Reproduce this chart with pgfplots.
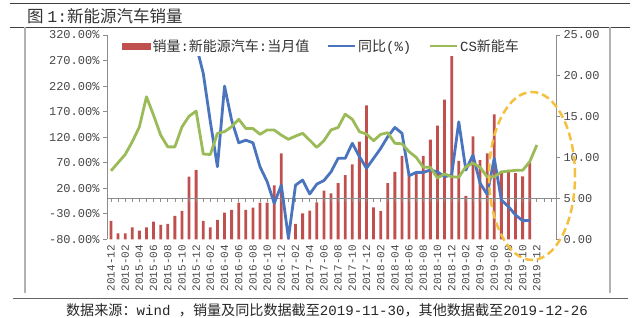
\documentclass[border=0pt]{standalone}
\usepackage{fontspec}
\setmainfont{Liberation Mono}
\newfontfamily\cjk{Noto Sans CJK SC}
\usepackage{pgfplots}
\usepackage{pgfplotstable}
\pgfplotsset{compat=1.18}
\definecolor{barred}{RGB}{192,80,77}
\definecolor{lblue}{RGB}{74,116,190}
\definecolor{lgreen}{RGB}{155,187,89}
\definecolor{ell}{RGB}{243,192,64}
\definecolor{axgray}{RGB}{140,140,140}

\pgfplotstableread{
x y
0 2.24
1 0.73
2 0.73
3 1.47
4 1.06
5 1.47
6 2.16
7 1.76
8 1.88
9 2.86
10 3.47
11 7.67
12 8.45
13 2.24
14 1.47
15 2.37
16 3.27
17 3.59
18 4.49
19 3.59
20 3.88
21 4.49
22 4.49
23 6.61
24 10.5
25 0.70
26 1.88
27 3.18
28 3.51
29 4.53
30 5.96
31 5.63
32 6.86
33 7.84
34 9.18
35 11.96
36 16.4
37 3.92
38 3.47
39 6.86
40 8.24
41 10.2
42 7.9
43 8.2
44 10.2
45 12.2
46 13.9
47 17.1
48 22.6
49 9.6
50 5.3
51 12.6
52 9.7
53 10.5
54 15.3
55 8.1
56 8.5
57 8.1
58 7.7
59 9.5
}\sales

\pgfplotstableread{
x y
12 300
13 245
14 150
15 62
16 220
17 153
18 109
19 114
20 109
21 62
22 33
23 -9.5
24 26
25 -78
26 26
27 36
28 8.7
29 28
30 35
31 52
32 78.5
33 78.5
34 108
35 82
36 59
37 78.5
38 98
39 121
40 139
41 127.5
42 44.5
43 51
44 51
45 55.7
46 52
47 42.5
48 46
49 150
50 55.7
51 85
52 30
53 8
54 78.5
55 -3
56 -16
57 -32.4
58 -43.6
59 -43
}\yoy

\pgfplotstableread{
x y
0 54
1 70
2 86
3 111
4 140
5 199
6 163
7 124
8 101
9 101
10 140
11 161
12 171
13 87
14 86
15 127.5
16 130.7
17 140.5
18 155
19 137
20 137
21 125.5
22 134
23 134
24 124
25 115.8
26 122
27 127.5
28 114
29 100
30 113
31 134
32 139
33 165
34 155
35 130.7
36 126
37 113
38 125.5
39 128.7
40 108
41 107
42 91.5
43 80.5
44 61
45 61
46 40
47 48
48 42.5
49 41.5
50 62
51 69
52 61
53 42.5
54 42.5
55 52
56 53.5
57 55
58 55
59 72
60 104.6
}\csidx

\begin{document}
\begin{tikzpicture}
\useasboundingbox (0,0) rectangle (640bp,318bp);
% frame
\draw[black!75, line width=0.7bp] (10bp,314.5bp) -- (630bp,314.5bp);
\draw[black!75, line width=0.7bp] (10bp,291bp) -- (630bp,291bp);
\draw[black!30, line width=1.2bp] (25bp,291bp) -- (25bp,25bp);
\draw[black!30, line width=1.2bp] (610bp,291bp) -- (610bp,25bp);
\draw[black!60, line width=0.7bp] (13bp,19.5bp) -- (628bp,19.5bp);
\node[anchor=west, inner sep=0pt, text=black!80] at (27bp,302bp)
  {\fontsize{16.5bp}{16.5bp}\selectfont\cjk 图 \normalfont 1:\cjk 新能源汽车销量};
\node[anchor=center, inner sep=0pt, text=black!85] at (327bp,8bp)
  {\fontsize{14.1bp}{14.1bp}\selectfont{\cjk 数据来源：}wind {\cjk ，销量及同比数据截至}2019-11-30{\cjk ，其他数据截至}2019-12-26};

% bars on right axis
\begin{axis}[at={(107bp,78.7bp)}, anchor=south west, scale only axis,
  width=449bp, height=204.3bp,
  xmin=-0.56, xmax=62.7, ymin=0, ymax=25,
  axis y line*=right, axis x line=none,
  y axis line style={draw=axgray, line width=0.8bp},
  ytick={0,5,...,25},
  yticklabels={0.00,5.00,10.00,15.00,20.00,25.00},
  ytick style={draw=axgray, line width=0.8bp},
  tick align=outside, major tick length=4bp,
  yticklabel style={font=\fontsize{12bp}{12bp}\selectfont, text=black!72},
  ybar, bar width=2.8bp]
\addplot[fill=barred, draw=none] table[x=x,y=y] {\sales};
\end{axis}

% lines on left axis
\begin{axis}[at={(107bp,78.7bp)}, anchor=south west, scale only axis,
  width=449bp, height=204.3bp,
  xmin=-0.56, xmax=62.7, ymin=-80, ymax=320,
  axis y line*=left, axis x line*=bottom,
  x axis line style={draw=none},
  y axis line style={draw=axgray, line width=0.8bp},
  xtick={0,2,...,60},
  xticklabels={2014-12,2015-02,2015-04,2015-06,2015-08,2015-10,2015-12,2016-02,2016-04,2016-06,2016-08,2016-10,2016-12,2017-02,2017-04,2017-06,2017-08,2017-10,2017-12,2018-02,2018-04,2018-06,2018-08,2018-10,2018-12,2019-02,2019-04,2019-06,2019-08,2019-10,2019-12},
  xtick style={draw=none},
  xticklabel style={rotate=90, anchor=east, inner sep=1.5bp, font=\fontsize{11bp}{11bp}\selectfont, text=black!72},
  ytick={-80,-30,...,320},
  yticklabels={-80.00\%,-30.00\%,20.00\%,70.00\%,120.00\%,170.00\%,220.00\%,270.00\%,320.00\%},
  ytick style={draw=axgray, line width=0.8bp},
  tick align=outside, major tick length=4bp,
  yticklabel style={font=\fontsize{12bp}{12bp}\selectfont, text=black!72},
  legend columns=3,
  legend style={at={(0.0334,0.946)}, anchor=west, draw=none, fill=white,
    inner xsep=0pt, inner ysep=1bp,
    font=\fontsize{14bp}{14bp}\selectfont, text=black!80,
    /tikz/every even column/.append style={column sep=15bp}},
  legend image code/.code={\draw[#1] (0bp,0bp) -- (27bp,0bp);}
  ]
\draw[axgray, line width=0.8bp] (rel axis cs:0,0.2) -- (rel axis cs:1,0.2);
\pgfplotsinvokeforeach{0,...,62}{\draw[axgray, line width=0.7bp] (axis cs:#1,0) -- ++(0bp,-4bp);}
\addlegendimage{legend image code/.code={\fill[barred] (0bp,-2.8bp) rectangle (28bp,2.8bp);}}
\addlegendentry{{\cjk 销量}:{\cjk 新能源汽车}:{\cjk 当月值}}
\addplot[lblue, line width=2.8bp, line join=round] table[x=x,y=y] {\yoy};
\addlegendentry{{\cjk 同比}(\%)}
\addplot[lgreen, line width=2.8bp, line join=round] table[x=x,y=y] {\csidx};
\addlegendentry{CS{\cjk 新能车}}
\end{axis}

% highlight ellipse
\draw[ell, line width=2.5bp, dash pattern=on 8bp off 4bp] (532bp,142bp) ellipse [x radius=43bp, y radius=84bp];
\end{tikzpicture}
\end{document}
